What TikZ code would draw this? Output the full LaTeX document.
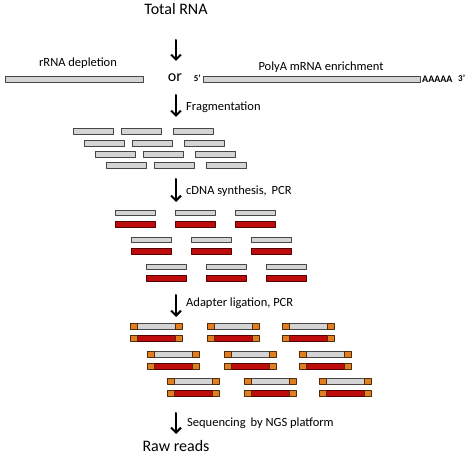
\documentclass[tikz,border=0pt]{standalone}
\usepackage{fontspec}
\setmainfont{Carlito}
\usepackage{tikz}
\usetikzlibrary{arrows.meta}
\definecolor{rnagrey}{RGB}{212,212,212}
\definecolor{rnaedge}{RGB}{70,70,70}
\definecolor{cdnared}{RGB}{190,12,12}
\definecolor{cdnaedge}{RGB}{85,0,0}
\definecolor{adapter}{RGB}{226,126,34}
\definecolor{adapteredge}{RGB}{80,45,10}
\tikzset{
  stepline/.style={line width=2pt,-{Straight Barb[length=5pt,width=10pt]}},
  rnabar/.style={draw=rnaedge,fill=rnagrey,line width=0.8pt},
  cdnabar/.style={draw=cdnaedge,fill=cdnared,line width=0.8pt},
  adbar/.style={draw=adapteredge,fill=adapter,line width=0.8pt},
  steplabel/.style={anchor=west,inner sep=0pt,font=\fontsize{12.5}{14}\selectfont},
  bigtext/.style={inner sep=0pt,font=\fontsize{16}{18}\selectfont}
}

\begin{document}
\begin{tikzpicture}[line cap=round,line join=round,x=1pt,y=-1pt]
		\useasboundingbox (0,0) rectangle (474,454);
		\node[bigtext] (total) at (176,9) {Total RNA};
		% the two routes
		\node[steplabel,anchor=center] (rrna) at (78,63) {rRNA depletion};
		\node[steplabel,anchor=center] (polya) at (321,67) {PolyA mRNA enrichment};
		\draw[rnabar] (5,76) rectangle (143,82);
		\draw[rnabar] (203,76) rectangle (420,82);
		\node[bigtext] (or) at (175,78) {or};
		\node[inner sep=0pt,anchor=east,font=\fontsize{9}{10}\selectfont\bfseries] (five) at (201,78) {5’};
		\node[inner sep=0pt,anchor=west,font=\fontsize{10}{12}\selectfont\bfseries] (tail) at (422,79) {AAAAA};
		\node[inner sep=0pt,anchor=west,font=\fontsize{9}{10}\selectfont\bfseries] (three) at (458,78) {3’};
		% arrows between the steps
		\foreach \n/\ya/\yb in {1/40/61,2/95/117,3/179/202,4/295/317,5/413/434}{
			\coordinate (s\n) at (176,\ya);
			\coordinate (e\n) at (176,\yb);
			\draw[stepline] (s\n) -- (e\n);
		}
		\node[steplabel] (frag) at (186,107) {Fragmentation};
		\node[steplabel] (cdna) at (186,191) {cDNA synthesis,\, PCR};
		\node[steplabel] (adapt) at (186,303) {Adapter ligation, PCR};
		\node[steplabel] (seq) at (187,423) {Sequencing\, by NGS platform};
		\node[bigtext] (raw) at (176,446) {Raw reads};
		% fragments
		\foreach \x/\y in {73/128,84/140,95/151,106/162}
			\foreach \dx in {0,48,100}
				\draw[rnabar] (\x+\dx,\y) rectangle ++(40,6);
		% cDNA
		\foreach \x/\y in {115/210,131/237,146/264}
			\foreach \dx in {0,60,120}{
				\draw[rnabar] (\x+\dx,\y) rectangle ++(40,5.5);
				\draw[cdnabar] (\x+\dx,\y+11) rectangle ++(40,6);
			}
		% adapters
		\foreach \x/\y in {130/323,147/351,167/378}
			\foreach \dx in {0,77,152}{
				\draw[rnabar] (\x+\dx+6,\y) rectangle ++(40,6);
				\draw[cdnabar] (\x+\dx+6,\y+12) rectangle ++(40,6);
				\foreach \dy in {0,12}{
					\draw[adbar] (\x+\dx,\y+\dy) rectangle ++(7,6);
					\draw[adbar] (\x+\dx+45,\y+\dy) rectangle ++(7,6);
				}
			}
\end{tikzpicture}
\end{document}
